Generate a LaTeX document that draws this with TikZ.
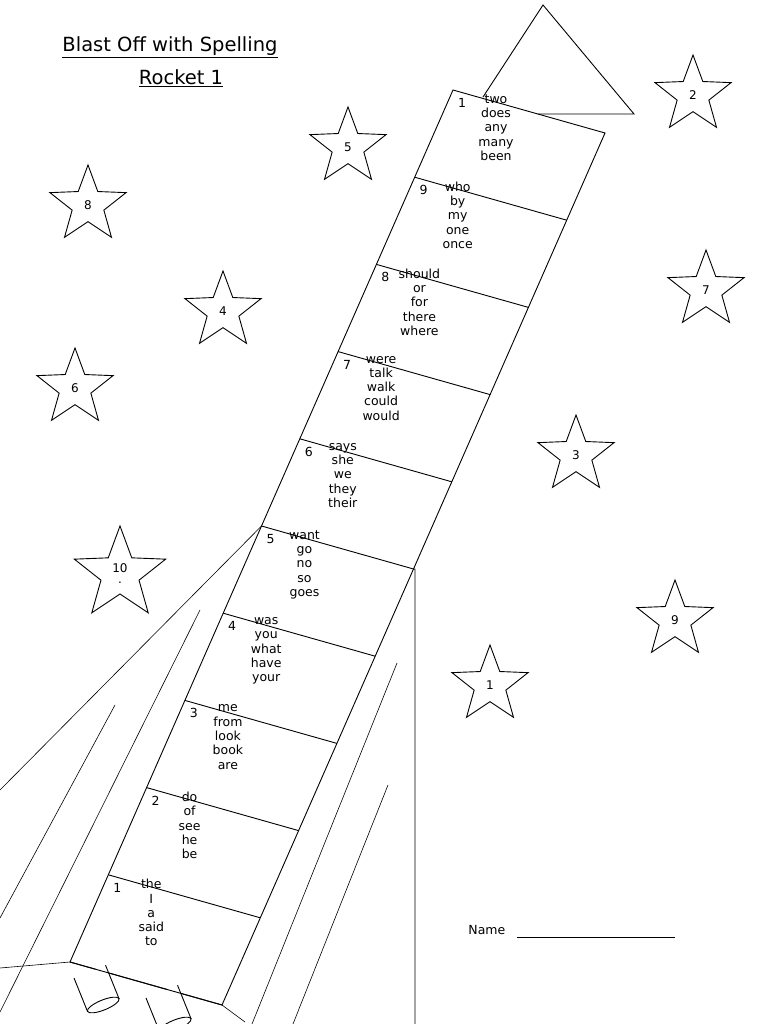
\documentclass[tikz,border=0pt]{standalone}
\usepackage{fontspec}
\setmainfont{DejaVu Sans}
\usetikzlibrary{shapes.geometric}
\begin{document}
\begin{tikzpicture}[x=1pt,y=-1pt,line width=0.9pt,
  starnode/.style={star,star points=5,star point ratio=2.4,draw,minimum size=80pt,inner sep=0pt,font=\fontsize{12}{13}\selectfont},
  words/.style={align=center,anchor=north,font=\fontsize{12.5}{14.3}\selectfont,inner sep=0pt},
  num/.style={anchor=center,font=\fontsize{12.5}{14}\selectfont,inner sep=0pt},
  thin/.style={line width=0.6pt}]
\useasboundingbox (0,0) rectangle (768,1024);
\node[font=\fontsize{19.5}{22}\selectfont] (t1) at (170,47) {\underline{Blast Off with Spelling}};
\node[font=\fontsize{19.5}{22}\selectfont] (t2) at (181,78) {\underline{Rocket 1}};
% nose
\coordinate (apex) at (543,5);
\coordinate (nl) at (483,97);
\coordinate (nr) at (634,114);
\coordinate (nm) at (538,114);
\draw (nl) -- (apex) -- (nr) -- (nm);
% body
\foreach \k in {0,...,10}{
  \coordinate (L\k) at ({453-38.3*\k},{90+87.2*\k});
  \coordinate (R\k) at ({605-38.3*\k},{133+87.2*\k});
}
\draw (L0) -- (L10) -- (R10) -- (R0) -- cycle;
\foreach \k in {1,...,9}{ \draw (L\k) -- (R\k); }
% segment texts
\foreach \k/\n/\w in {0/1/{two\\does\\any\\many\\been},1/9/{who\\by\\my\\one\\once},2/8/{should\\or\\for\\there\\where},3/7/{were\\talk\\walk\\could\\would},4/6/{says\\she\\we\\they\\their},5/5/{want\\go\\no\\so\\goes},6/4/{was\\you\\what\\have\\your},7/3/{me\\from\\look\\book\\are},8/2/{do\\of\\see\\he\\be},9/1/{the\\I\\a\\said\\to}}{
  \node[num] (n\k) at ([shift={(9,13)}]L\k) {\n};
  \node[words] (w\k) at ([shift={(43,4)}]L\k) {\w};
}
% exhaust and side lines
\coordinate (e1) at (0,790);
\draw[thin] (L5) -- (e1);
\coordinate (a1) at (200,610); \coordinate (a2) at (0,1012);
\draw[thin] (a1) -- (a2);
\coordinate (b1) at (115,705); \coordinate (b2) at (0,918);
\draw[thin] (b1) -- (b2);
\coordinate (c1) at (397,663); \coordinate (c2) at (252,1024);
\draw[thin] (c1) -- (c2);
\coordinate (d1) at (388,785); \coordinate (d2) at (293,1024);
\draw[thin] (d1) -- (d2);
\coordinate (v1) at (415,569); \coordinate (v2) at (415,1024);
\draw[thin] (R5) -- (v1) -- (v2);
\coordinate (f1) at (0,968);
\draw[thin] (L10) -- (f1);
\coordinate (g1) at (245,1022);
\draw[thin] (R10) -- (g1);
% nozzles
\begin{scope}[shift={(98,992)},rotate=22]
  \draw[fill=white] (-17,-22) -- (-17,14) -- (17,14) -- (17,-22);
  \draw[fill=white] (0,14) ellipse (17 and 5);
\end{scope}
\begin{scope}[shift={(170,1012)},rotate=22]
  \draw[fill=white] (-17,-22) -- (-17,14) -- (17,14) -- (17,-22);
  \draw[fill=white] (0,14) ellipse (17 and 5);
\end{scope}
\draw (L10) -- (R10);
% stars
\node[starnode] (s5) at (348,147) {5};
\node[starnode] (s2) at (693,95) {2};
\node[starnode] (s8) at (88,205) {8};
\node[starnode] (s7) at (706,290) {7};
\node[starnode] (s4) at (223,311) {4};
\node[starnode] (s6) at (75,388) {6};
\node[starnode] (s3) at (576,455) {3};
\node[starnode,minimum size=96pt,align=center,font=\fontsize{12}{10}\selectfont] (s10) at (120,574) {10\\[1pt].};
\node[starnode] (s9) at (675,620) {9};
\node[starnode] (s1) at (490,685) {1};
% name
\node[anchor=west,font=\fontsize{12.5}{14}\selectfont,inner sep=0pt] (name) at (468,930) {Name};
\coordinate (nl1) at (517,937); \coordinate (nl2) at (675,937);
\draw[thin] (nl1) -- (nl2);
\end{tikzpicture}
\end{document}
